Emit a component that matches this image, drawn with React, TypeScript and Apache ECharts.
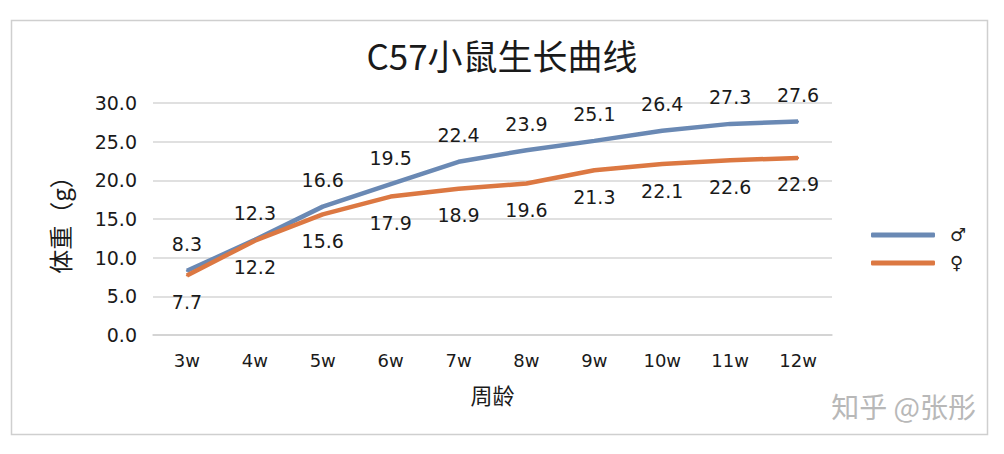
import React, { useEffect, useRef } from "react";
import * as echarts from "echarts";

const categories = ["3w", "4w", "5w", "6w", "7w", "8w", "9w", "10w", "11w", "12w"];
const maleValues = [8.3, 12.3, 16.6, 19.5, 22.4, 23.9, 25.1, 26.4, 27.3, 27.6];
const femaleValues = [7.7, 12.2, 15.6, 17.9, 18.9, 19.6, 21.3, 22.1, 22.6, 22.9];
const seriesNames = ["♂", "♀"];

const NUM_FONT = "DejaVu Sans, Noto Sans CJK SC, sans-serif";
const CJK_FONT = "Noto Sans CJK SC, DejaVu Sans, sans-serif";

export default function App() {
  const ref = useRef<HTMLDivElement>(null);
  useEffect(() => {
    document.body.style.margin = "0";
    const chart = echarts.init(ref.current!, null, { renderer: "svg" });
    chart.setOption({
      animation: false,
      backgroundColor: "#ffffff",
      title: {
        text: "C57小鼠生长曲线",
        left: "center",
        top: 32,
        textStyle: { fontFamily: CJK_FONT, fontSize: 35, fontWeight: "normal", color: "#1a1a1a" },
      },
      graphic: [
        {
          type: "rect",
          shape: { x: 11.5, y: 20.5, width: 976, height: 414 },
          style: { fill: "none", stroke: "#cfcfcf", lineWidth: 1.5 },
          silent: true,
          z: -1,
        },
        {
          type: "text",
          right: 28,
          top: 392,
          style: {
            text: "知乎 @张彤",
            fontFamily: CJK_FONT,
            fontSize: 28,
            fill: "#b8b8b8",
          },
        },
      ],
      legend: {
        orient: "vertical",
        left: 866,
        top: 221,
        itemWidth: 64,
        itemHeight: 5,
        itemGap: 10,
        icon: "roundRect",
        textStyle: { fontFamily: NUM_FONT, fontSize: 18, color: "#222", padding: [0, 0, 0, 10] },
        data: seriesNames,
      },
      grid: { left: 153, right: 172, top: 103, bottom: 119 },
      xAxis: {
        type: "category",
        data: categories,
        boundaryGap: true,
        name: "周龄",
        nameLocation: "middle",
        nameGap: 48,
        nameTextStyle: { fontFamily: CJK_FONT, fontSize: 22, color: "#1a1a1a" },
        axisLine: { show: true, lineStyle: { color: "#d0d0d0", width: 1.5 } },
        axisTick: { show: false },
        axisLabel: { fontFamily: NUM_FONT, fontSize: 18, color: "#1a1a1a", margin: 16 },
      },
      yAxis: {
        type: "value",
        min: 0,
        max: 30,
        interval: 5,
        name: "体重（g）",
        nameLocation: "middle",
        nameGap: 82,
        nameRotate: 90,
        nameTextStyle: { fontFamily: CJK_FONT, fontSize: 24, color: "#1a1a1a" },
        axisLine: { show: false },
        axisTick: { show: false },
        axisLabel: {
          fontFamily: NUM_FONT,
          fontSize: 19,
          color: "#1a1a1a",
          margin: 16,
          formatter: (v: number) => v.toFixed(1),
        },
        splitLine: { lineStyle: { color: "#d6d6d6", width: 1.5 } },
      },
      series: [
        {
          name: seriesNames[0],
          type: "line",
          data: maleValues,
          symbol: "circle",
          symbolSize: 2,
          showSymbol: true,
          lineStyle: { color: "#6a89b4", width: 4.5 },
          itemStyle: { color: "#6a89b4" },
          label: {
            show: true,
            position: "top",
            distance: 16,
            fontFamily: NUM_FONT,
            fontSize: 19,
            color: "#1a1a1a",
            formatter: (p: any) => Number(p.value).toFixed(1),
          },
        },
        {
          name: seriesNames[1],
          type: "line",
          data: femaleValues,
          symbol: "circle",
          symbolSize: 2,
          showSymbol: true,
          lineStyle: { color: "#dc7842", width: 4.5 },
          itemStyle: { color: "#dc7842" },
          label: {
            show: true,
            position: "bottom",
            distance: 16,
            fontFamily: NUM_FONT,
            fontSize: 19,
            color: "#1a1a1a",
            formatter: (p: any) => Number(p.value).toFixed(1),
          },
        },
      ],
    });
    return () => chart.dispose();
  }, []);
  return <div ref={ref} style={{ width: 1004, height: 454 }} />;
}
